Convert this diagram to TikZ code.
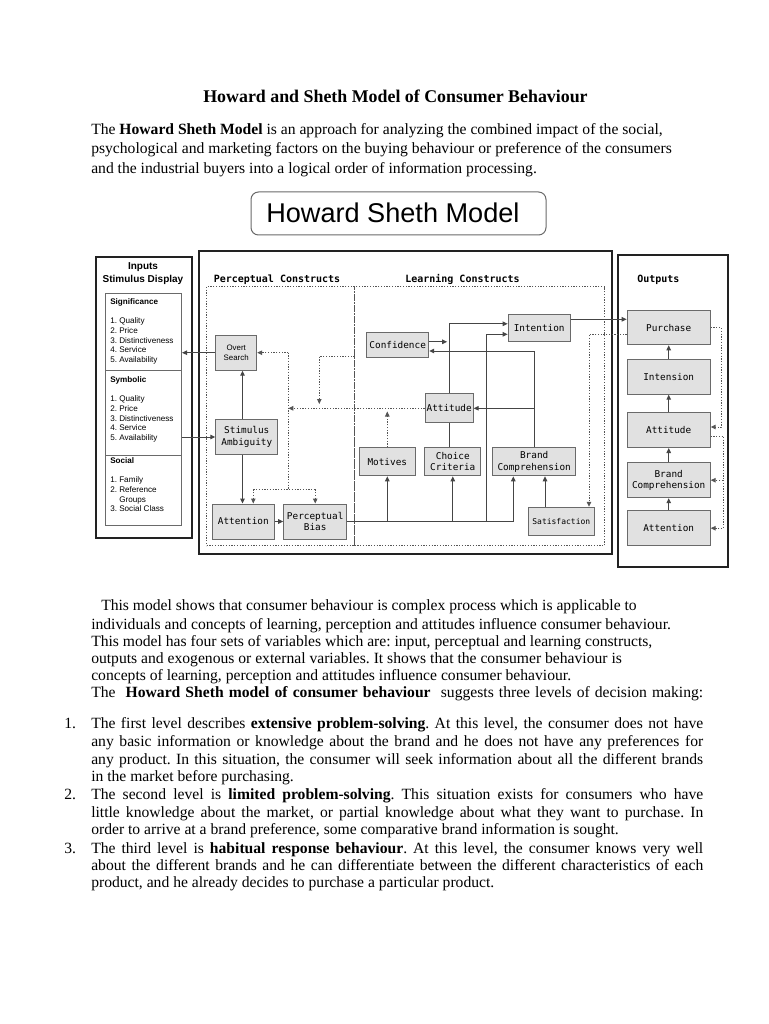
\documentclass[tikz,border=0pt]{standalone}
\usepackage{fontspec}
\setmainfont{Liberation Serif}
\newfontfamily\sansf{Liberation Sans}
\newfontfamily\monof{DejaVu Sans Mono}
\usetikzlibrary{arrows.meta,calc}
\definecolor{boxfill}{HTML}{E1E1E1}
\definecolor{boxdraw}{HTML}{6A6A6A}
\definecolor{linec}{HTML}{454545}
\definecolor{dotc}{HTML}{555555}
\definecolor{framec}{HTML}{222222}
\newlength\jwid
\setlength\jwid{489.6pt}
\frenchspacing
\begin{document}
\begin{tikzpicture}[x=0.8pt,y=-0.8pt,
  sz/.style 2 args={minimum width=#1*0.8pt, minimum height=#2*0.8pt},
  bx/.style={draw=boxdraw, fill=boxfill, line width=0.8pt, inner sep=0pt, align=center,
    font=\monof\fontsize{7.5}{9}\selectfont},
  con/.style={draw=linec, line width=0.8pt},
  arr/.style={con, -{Triangle[length=4pt,width=3.6pt]}},
  dot/.style={draw=dotc, line width=0.8pt, dash pattern=on 1pt off 1.2pt},
  dotarr/.style={dot, -{Triangle[length=4pt,width=3.6pt]}},
  body/.style={anchor=base west, inner sep=0pt, font=\frenchspacing\fontsize{12.5}{14}\selectfont},
  itm/.style={anchor=base west, inner sep=0pt, font=\sansf\fontsize{6.5}{7.8}\selectfont},
  hd/.style={itm, font=\sansf\bfseries\fontsize{6.5}{7.8}\selectfont},
  lab/.style={anchor=base, inner sep=0pt, font=\monof\bfseries\fontsize{8}{9}\selectfont},
  frm/.style={draw=framec, anchor=north west, inner sep=0pt},
  sect/.style={draw=boxdraw, line width=0.8pt, anchor=north west, inner sep=0pt}
]
\fill[white] (0,0) rectangle (768,1024);
\useasboundingbox (0,0) rectangle (768,1024);

% ---------- title and intro ----------
\node[body, anchor=base, font=\bfseries\fontsize{14.3}{16}\selectfont] (title) at (395.5,103) {Howard and Sheth Model of Consumer Behaviour};
\node[body] (p1a) at (91,135) {The \textbf{Howard Sheth Model} is an approach for analyzing the combined impact of the social,};
\node[body] (p1b) at (91,154) {psychological and marketing factors on the buying behaviour or preference of the consumers};
\node[body] (p1c) at (91,174) {and the industrial buyers into a logical order of information processing.};

% ---------- model heading box ----------
\node[draw=boxdraw, line width=0.8pt, rounded corners=6pt, sz={295}{43}, inner sep=0pt] (hsbox) at (398.5,213.5) {};
\node[anchor=west, inner sep=0pt, font=\sansf\fontsize{21.7}{24}\selectfont] (hstxt) at (266,212.5) {Howard Sheth Model};

% ---------- inputs ----------
\node[frm, line width=1.2pt, sz={96}{281}] (inputs) at (95,256) {};
\node[sect, sz={76}{77}] (sig) at (105,293) {};
\node[sect, sz={76}{85}] (sym) at (105,370) {};
\node[sect, sz={76}{70}] (soc) at (105,455) {};
\node[anchor=base, inner sep=0pt, font=\sansf\bfseries\fontsize{8}{9}\selectfont] (inl1) at (143,269) {Inputs};
\node[anchor=base, inner sep=0pt, font=\sansf\bfseries\fontsize{8}{9}\selectfont] (inl2) at (143,282) {Stimulus Display};
\node[hd] (sighd) at (110,304) {Significance};
\foreach \t [count=\i from 0] in {1. Quality, 2. Price, 3. Distinctiveness, 4. Service, 5. Availability}
  \node[itm] (sigi\i) at (110,323.5+9.75*\i) {\t};
\node[hd] (symhd) at (110,382.5) {Symbolic};
\foreach \t [count=\i from 0] in {1. Quality, 2. Price, 3. Distinctiveness, 4. Service, 5. Availability}
  \node[itm] (symi\i) at (110,401.5+9.75*\i) {\t};
\node[hd] (sochd) at (110,463) {Social};
\node[itm] (soc0) at (110,482.5) {1. Family};
\node[itm] (soc1) at (110,492.3) {2. Reference};
\node[itm] (soc2) at (110,502) {\phantom{2. }Groups};
\node[itm] (soc3) at (110,511.8) {3. Social Class};

% ---------- main frame ----------
\node[frm, line width=1.5pt, sz={413}{303}] (frame) at (198,250) {};
\node[dot, anchor=north west, inner sep=0pt, sz={148}{259}] (percbox) at (206,286) {};
\node[dot, anchor=north west, inner sep=0pt, sz={250}{259}] (learnbox) at (354,286) {};
\node[lab] (perlab) at (277,282) {Perceptual Constructs};
\node[lab] (learnlab) at (462.5,282) {Learning Constructs};

% perceptual nodes
\node[bx, sz={41}{35}, font=\sansf\fontsize{6.3}{7.6}\selectfont] (overt) at (236.2,352.7) {Overt\\Search};
\node[bx, sz={62}{35}] (stim) at (246.8,437) {Stimulus\\Ambiguity};
\node[bx, sz={62}{35}] (attnP) at (243.3,521.5) {Attention};
\node[bx, sz={63}{35}] (pbias) at (315.2,521.5) {Perceptual\\Bias};

% learning nodes
\node[bx, sz={62}{25}] (conf) at (397.7,344.8) {Confidence};
\node[bx, sz={62}{27}] (intent) at (539.2,327.8) {Intention};
\node[bx, sz={48}{29}] (attL) at (449.2,408.3) {Attitude};
\node[bx, sz={56}{28}] (motives) at (387.3,461.8) {Motives};
\node[bx, sz={56}{28}] (choice) at (452.8,461.8) {Choice\\Criteria};
\node[bx, sz={83}{28}] (brandL) at (534.2,461.8) {Brand\\Comprehension};
\node[bx, sz={66}{28}, font=\monof\fontsize{6.4}{8}\selectfont] (satis) at (561.3,521.3) {Satisfaction};

% ---------- outputs ----------
\node[frm, line width=1.2pt, sz={110}{312}] (outbox) at (617,254) {};
\node[lab, anchor=base west] (outlab) at (637,282) {Outputs};
\node[bx, sz={83}{34}] (purch) at (668.7,327.8) {Purchase};
\node[bx, sz={83}{35}] (intens) at (668.7,376.7) {Intension};
\node[bx, sz={83}{35}] (attO) at (668.7,430) {Attitude};
\node[bx, sz={83}{35}] (brandO) at (668.7,480.2) {Brand\\Comprehension};
\node[bx, sz={83}{35}] (attnO) at (668.7,528.2) {Attention};

% ---------- solid connectors ----------
\coordinate (sx) at (242.5,0);
\draw[arr] (overt.west) -- (overt.west -| sig.east);
\draw[arr] (sym.east |- stim.west) -- (stim.west);
\draw[arr] (stim.north -| sx) -- (overt.south -| sx);
\draw[arr] (stim.south -| sx) -- (attnP.north -| sx);
\draw[arr] (attnP.east) -- (pbias.west);

\coordinate (busE) at (513.3,521.5);
\coordinate (v2) at (486.7,521.5);
\draw[con] (pbias.east) -- (busE);
\draw[arr] (motives.south |- busE) -- (motives.south);
\draw[arr] (choice.south |- busE) -- (choice.south);
\draw[arr] (busE) -- (busE |- brandL.south);
\coordinate (inL) at ($(intent.west)+(0,6.5)$);
\coordinate (inU) at ($(intent.west)+(0,-4)$);
\draw[arr] (v2) -- (v2 |- inL) -- (inL);
\draw[arr] (attL.north) -- (attL.north |- inU) -- (inU);
\coordinate (cfU) at ($(conf.east)+(0,-3)$);
\coordinate (cfL) at ($(conf.east)+(0,6.2)$);
\draw[arr] (cfU) -- ($(cfU -| attL.north)+(-2,0)$);
\draw[arr] (brandL.north) -- (brandL.north |- cfL) -- (cfL);
\draw[arr] (brandL.north |- attL.east) -- (attL.east);
\draw[con] (attL.south) -- (attL.south |- choice.north);
\coordinate (sX) at (545,0);
\draw[arr] (satis.north -| sX) -- (brandL.south -| sX);
\coordinate (puO) at ($(intent.east)+(0,-8.5)$);
\draw[arr] (puO) -- (puO -| purch.west);

\draw[arr] (intens.north) -- (purch.south);
\draw[arr] (attO.north) -- (intens.south);
\draw[arr] (brandO.north) -- (attO.south);
\draw[arr] (attnO.north) -- (brandO.south);

% ---------- dotted connectors ----------
\coordinate (jT) at (288.3,352.7);
\coordinate (jM) at (288.3,408.3);
\coordinate (jB) at (288.3,489.3);
\coordinate (jL) at (253.3,489.3);
\draw[dotarr] (attL.west) -- (jM);
\draw[dot] (jT) -- (jB);
\draw[dotarr] (jT) -- (overt.east);
\draw[dot] (jL) -- (jB -| pbias.north);
\draw[dotarr] (jL) -- (jL |- attnP.north);
\draw[dotarr] (jB -| pbias.north) -- (pbias.north);

\coordinate (cA) at (354.5,356);
\coordinate (cB) at (319.3,356);
\coordinate (cC) at (319.3,404);
\draw[dotarr] (cA) -- (cB) -- (cC);
\coordinate (mT) at (387.3,411.5);
\draw[dotarr] (motives.north) -- (mT);

\coordinate (pL) at ($(purch.west)+(0,6.5)$);
\coordinate (sV) at (589,0);
\draw[dotarr] (pL) -- (pL -| sV) -- (satis.north -| sV);

\coordinate (rA) at (721.5,0);
\coordinate (rB) at (723.5,0);
\coordinate (aoU) at ($(attO.east)+(0,-3)$);
\coordinate (aoD) at ($(attO.east)+(0,6)$);
\draw[dotarr] (purch.east) -- (purch.east -| rA) -- (aoU -| rA) -- (aoU);
\draw[dotarr] (aoD) -- (aoD -| rB) -- (brandO.east -| rB) -- (brandO.east);
\draw[dotarr] (brandO.east -| rB) -- (attnO.east -| rB) -- (attnO.east);

% ---------- lower text ----------
\node[body] (b1) at (101,610) {This model shows that consumer behaviour is complex process which is applicable to};
\node[body] (b2) at (91,629) {individuals and concepts of learning, perception and attitudes influence consumer behaviour.};
\node[body] (b3) at (91,646) {This model has four sets of variables which are: input, perceptual and learning constructs,};
\node[body] (b4) at (91,663) {outputs and exogenous or external variables. It shows that the consumer behaviour is};
\node[body] (b5) at (91,680) {concepts of learning, perception and attitudes influence consumer behaviour.};
\node[body] (b6) at (91,697) {\makebox[\jwid][s]{The \ \textbf{Howard Sheth model of consumer behaviour} \ suggests three levels of decision making:}};

\node[body] (n1) at (64,728) {1.};
\node[body] (l1a) at (91,728) {\makebox[\jwid][s]{The first level describes \textbf{extensive problem-solving}. At this level, the consumer does not have}};
\node[body] (l1b) at (91,746) {\makebox[\jwid][s]{any basic information or knowledge about the brand and he does not have any preferences for}};
\node[body] (l1c) at (91,764) {\makebox[\jwid][s]{any product. In this situation, the consumer will seek information about all the different brands}};
\node[body] (l1d) at (91,781) {in the market before purchasing.};
\node[body] (n2) at (64,799) {2.};
\node[body] (l2a) at (91,799) {\makebox[\jwid][s]{The second level is \textbf{limited problem-solving}. This situation exists for consumers who have}};
\node[body] (l2b) at (91,817) {\makebox[\jwid][s]{little knowledge about the market, or partial knowledge about what they want to purchase. In}};
\node[body] (l2c) at (91,834) {order to arrive at a brand preference, some comparative brand information is sought.};
\node[body] (n3) at (64,853) {3.};
\node[body] (l3a) at (91,853) {\makebox[\jwid][s]{The third level is \textbf{habitual response behaviour}. At this level, the consumer knows very well}};
\node[body] (l3b) at (91,870) {\makebox[\jwid][s]{about the different brands and he can differentiate between the different characteristics of each}};
\node[body] (l3c) at (91,887) {product, and he already decides to purchase a particular product.};
\end{tikzpicture}
\end{document}
